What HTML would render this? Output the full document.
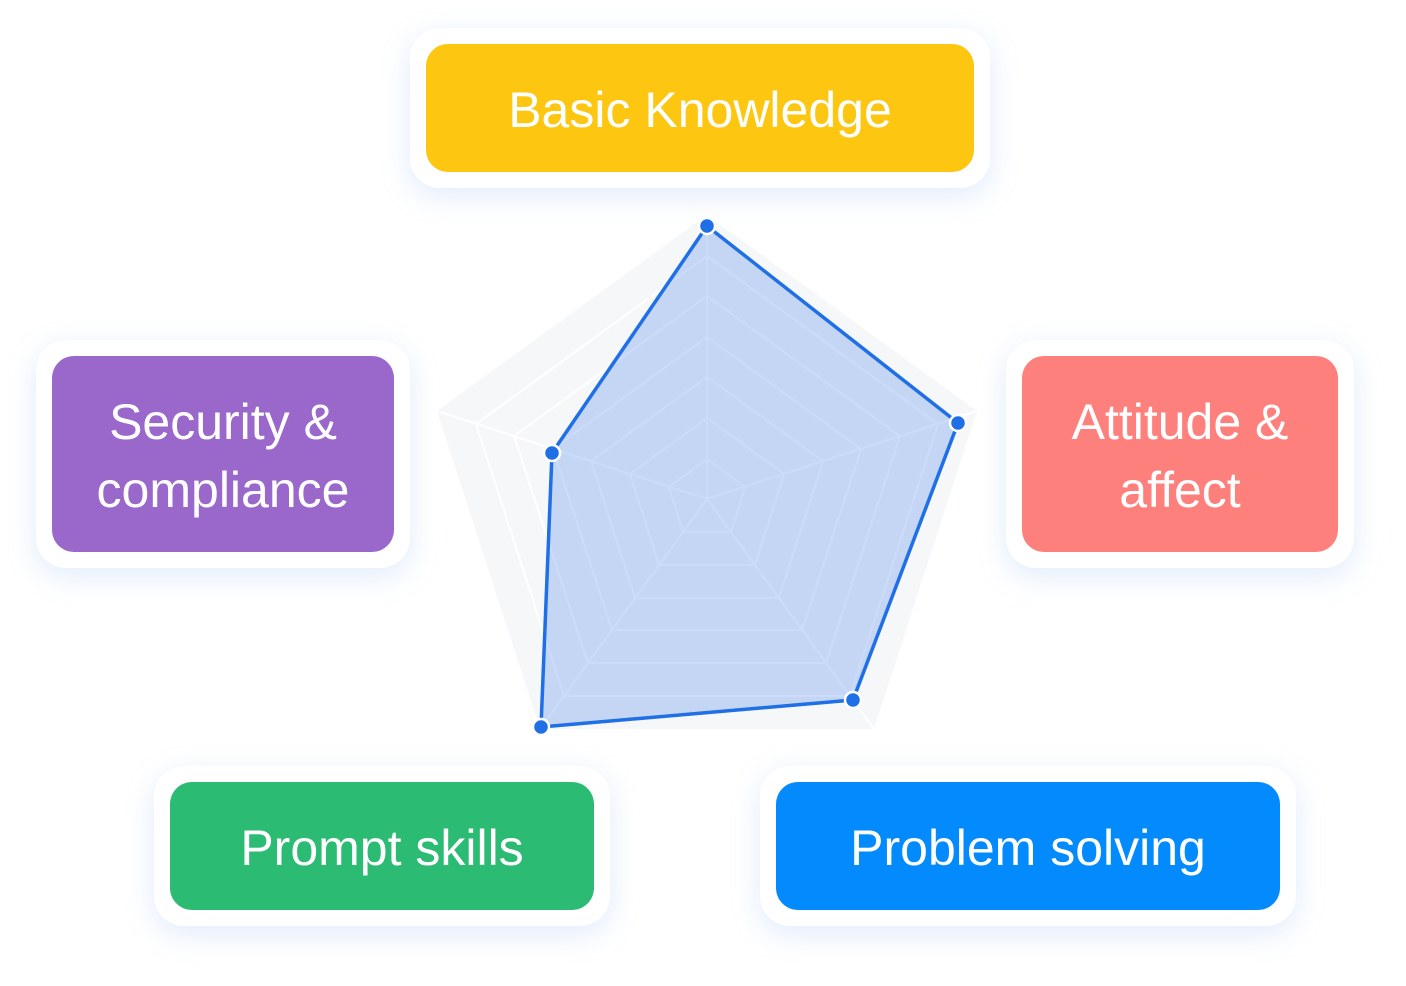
<!DOCTYPE html>
<html><head><style>
body{margin:0;width:1406px;height:986px;background:#fff;position:relative;overflow:hidden;font-family:"Liberation Sans",Arial,sans-serif}
.o{position:absolute;background:#fff;border-radius:30px;box-shadow:0 8px 30px rgba(120,170,240,0.22)}
.i{position:absolute;border-radius:22px;color:#fff;font-size:50px;display:flex;align-items:center;justify-content:center;text-align:center;line-height:68px;padding-top:4px;box-sizing:border-box}
svg{position:absolute;left:0;top:0}
</style></head><body>
<svg width="1406" height="986">
<g transform="translate(707,499)">
<polygon points="0,-284 270,-88 167,230 -167,230 -270,-88" fill="#f6f7f8"/>
<g fill="none" stroke="#fff" stroke-width="2">
<polygon points="0,-243 231,-75 143,197 -143,197 -231,-75"/>
<polygon points="0,-203 193,-63 119,164 -119,164 -193,-63"/>
<polygon points="0,-162 154,-50 95,131 -95,131 -154,-50"/>
<polygon points="0,-122 116,-38 72,99 -72,99 -116,-38"/>
<polygon points="0,-81 77,-25 48,66 -48,66 -77,-25"/>
<polygon points="0,-40 38,-12 24,33 -24,33 -38,-12"/>
<line x1="0" y1="0" x2="0" y2="-284"/><line x1="0" y1="0" x2="270" y2="-88"/><line x1="0" y1="0" x2="167" y2="230"/><line x1="0" y1="0" x2="-167" y2="230"/><line x1="0" y1="0" x2="-270" y2="-88"/>
</g>
<polygon points="0,-273 251,-76 146,201 -166,228 -155,-46" fill="rgba(80,140,235,0.3)" stroke="#1f6fe6" stroke-width="3.5" stroke-linejoin="round"/>
<g fill="#1f6fe6" stroke="#fff" stroke-width="2.5">
<circle cx="0" cy="-273" r="8"/><circle cx="251" cy="-76" r="8"/><circle cx="146" cy="201" r="8"/><circle cx="-166" cy="228" r="8"/><circle cx="-155" cy="-46" r="8"/>
</g></g></svg>
<div class="o" style="left:410px;top:28px;width:580px;height:160px"></div>
<div class="i" style="left:426px;top:44px;width:548px;height:128px;background:#fdc610">Basic Knowledge</div>
<div class="o" style="left:36px;top:340px;width:374px;height:228px"></div>
<div class="i" style="left:52px;top:356px;width:342px;height:196px;background:#9a68cb">Security &amp;<br>compliance</div>
<div class="o" style="left:1006px;top:340px;width:348px;height:228px"></div>
<div class="i" style="left:1022px;top:356px;width:316px;height:196px;background:#fd807c">Attitude &amp;<br>affect</div>
<div class="o" style="left:154px;top:766px;width:456px;height:160px"></div>
<div class="i" style="left:170px;top:782px;width:424px;height:128px;background:#2bbb72">Prompt skills</div>
<div class="o" style="left:760px;top:766px;width:536px;height:160px"></div>
<div class="i" style="left:776px;top:782px;width:504px;height:128px;background:#038bfd">Problem solving</div>
</body></html>
